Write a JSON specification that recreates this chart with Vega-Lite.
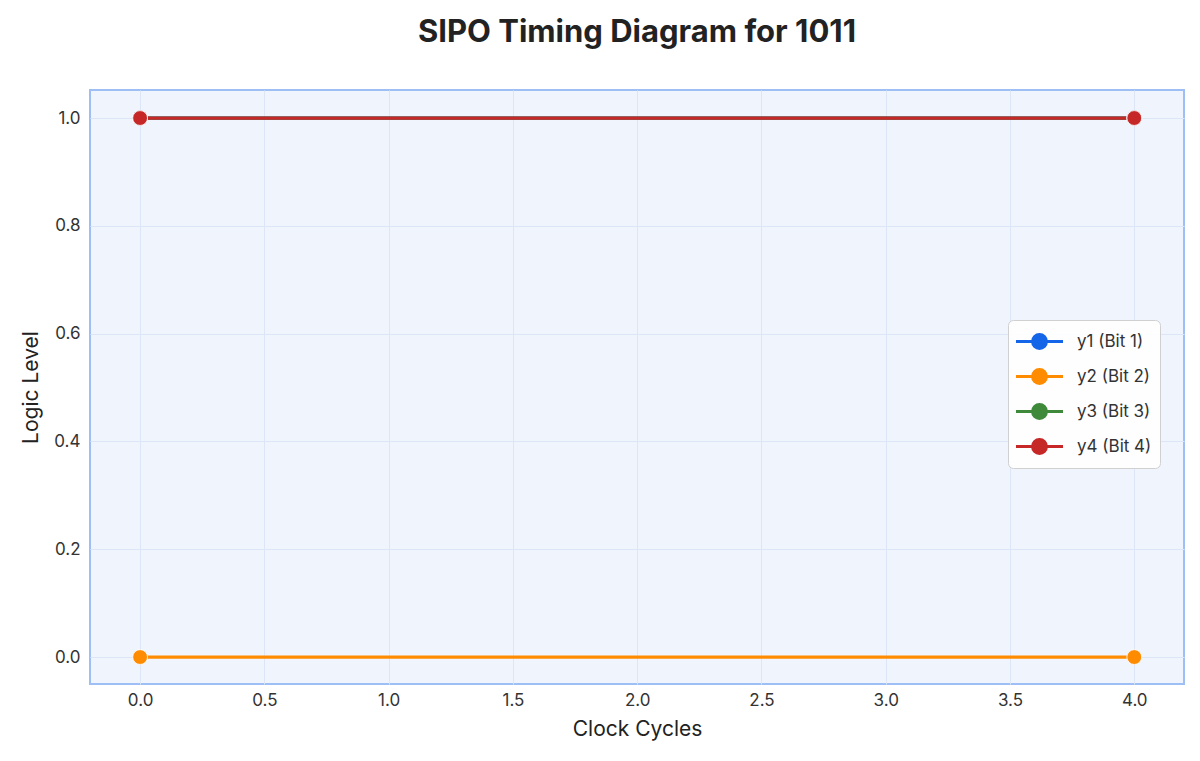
{
  "$schema": "https://vega.github.io/schema/vega-lite/v6.json",
  "width": 1094,
  "height": 594,
  "autosize": "none",
  "padding": {"left": 90, "top": 90, "right": 16, "bottom": 77},
  "background": "white",
  "title": {
    "text": "SIPO Timing Diagram for 1011",
    "font": "Inter",
    "fontSize": 31,
    "fontWeight": "bold",
    "color": "#222222",
    "anchor": "middle",
    "offset": 41
  },
  "data": {
    "values": [
      {"cycle": 0, "level": 1, "series": "y1 (Bit 1)"},
      {"cycle": 4, "level": 1, "series": "y1 (Bit 1)"},
      {"cycle": 0, "level": 0, "series": "y2 (Bit 2)"},
      {"cycle": 4, "level": 0, "series": "y2 (Bit 2)"},
      {"cycle": 0, "level": 1, "series": "y3 (Bit 3)"},
      {"cycle": 4, "level": 1, "series": "y3 (Bit 3)"},
      {"cycle": 0, "level": 1, "series": "y4 (Bit 4)"},
      {"cycle": 4, "level": 1, "series": "y4 (Bit 4)"}
    ]
  },
  "config": {
    "view": {"fill": "#f0f5fd", "stroke": "#9dbff5", "strokeWidth": 2},
    "font": "Inter"
  },
  "encoding": {
    "x": {
      "field": "cycle", "type": "quantitative",
      "scale": {"domain": [-0.2016, 4.2], "nice": false, "zero": false},
      "axis": {
        "title": "Clock Cycles", "values": [0, 0.5, 1, 1.5, 2, 2.5, 3, 3.5, 4],
        "format": ".1f", "ticks": false, "domain": false,
        "gridColor": "#dde6f7", "gridWidth": 1,
        "labelFont": "Inter", "labelFontSize": 17, "labelColor": "#333333", "labelPadding": 8,
        "titleFont": "Inter", "titleFontSize": 21, "titleFontWeight": "normal", "titleColor": "#222222", "titlePadding": 10
      }
    },
    "y": {
      "field": "level", "type": "quantitative",
      "scale": {"domain": [-0.05, 1.052], "nice": false, "zero": false},
      "axis": {
        "title": "Logic Level", "values": [0, 0.2, 0.4, 0.6, 0.8, 1.0],
        "format": ".1f", "ticks": false, "domain": false,
        "gridColor": "#dde6f7", "gridWidth": 1,
        "labelFont": "Inter", "labelFontSize": 17, "labelColor": "#333333", "labelPadding": 10,
        "titleFont": "Inter", "titleFontSize": 21, "titleFontWeight": "normal", "titleColor": "#222222", "titlePadding": 12
      }
    },
    "color": {
      "field": "series", "type": "nominal",
      "scale": {
        "domain": ["y1 (Bit 1)", "y2 (Bit 2)", "y3 (Bit 3)", "y4 (Bit 4)"],
        "range": ["#1565e8", "#ff8c00", "#3f8a3a", "#c62828"]
      },
      "legend": {
        "title": null,
        "orient": "none",
        "legendX": 918,
        "legendY": 230,
        "symbolType": "M-1.96,0H1.96M0.58,0A0.58,0.58 0 1,1 -0.58,0A0.58,0.58 0 1,1 0.58,0Z",
        "symbolSize": 576,
        "symbolStrokeWidth": 3,
        "symbolOpacity": 1,
        "symbolOffset": 10,
        "labelFont": "Inter", "labelFontSize": 17, "labelColor": "#333333",
        "rowPadding": 8,
        "labelOffset": 24,
        "padding": 8,
        "fillColor": "rgba(255,255,255,0.9)",
        "strokeColor": "#d0d0d0",
        "cornerRadius": 5
      }
    }
  },
  "layer": [
    {"mark": {"type": "line", "strokeWidth": 3.3}},
    {"mark": {"type": "point", "filled": true, "size": 220, "opacity": 1, "stroke": "white", "strokeWidth": 0.8}}
  ]
}
